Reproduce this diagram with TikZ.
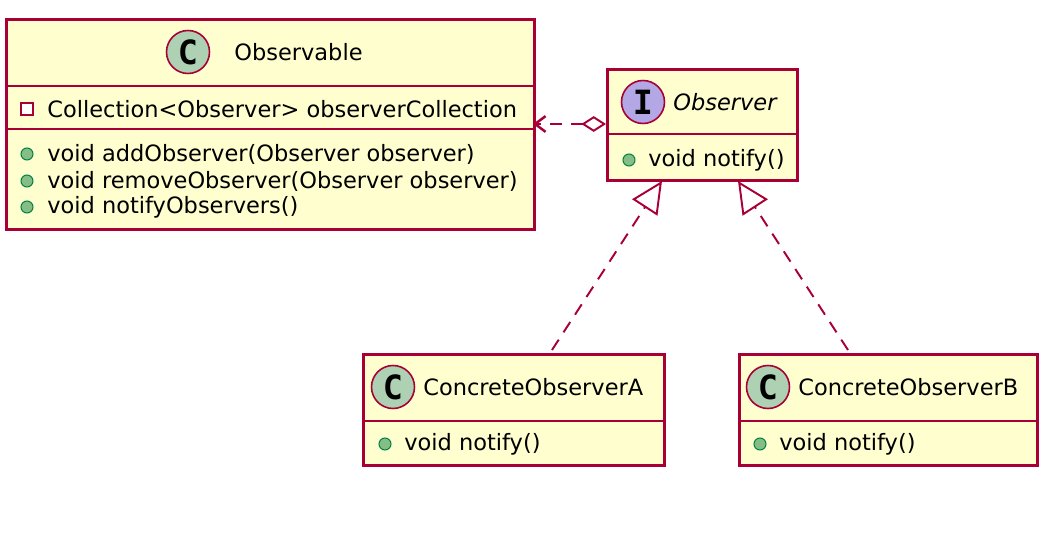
\documentclass[tikz,border=0pt]{standalone}
\usepackage{fontspec}
\setmainfont{DejaVu Sans}
\setmonofont{DejaVu Sans Mono}
\usetikzlibrary{arrows.meta}
\definecolor{umlfill}{HTML}{FEFECE}
\definecolor{umlline}{HTML}{A80036}
\definecolor{cfill}{HTML}{ADD1B2}
\definecolor{ifill}{HTML}{B4A7E5}
\definecolor{pubfill}{HTML}{84BE84}
\definecolor{publine}{HTML}{038048}
\begin{document}
\begin{tikzpicture}[x=0.02cm,y=-0.02cm,
  box/.style={draw=umlline,fill=umlfill,line width=1.6pt,anchor=north west,inner sep=0pt},
  sep/.style={umlline,line width=1.6pt},
  txt/.style={anchor=west,inner sep=0pt,font=\fontsize{12.8}{15}\selectfont},
  badge/.style={circle,draw=umlline,line width=0.9pt,minimum size=0.86cm,inner sep=0pt,font=\fontsize{19}{19}\selectfont\ttfamily\bfseries},
  pub/.style={circle,draw=publine,fill=pubfill,minimum size=0.24cm,inner sep=0pt,line width=0.6pt},
  priv/.style={draw=umlline,fill=white,minimum size=0.24cm,inner sep=0pt,line width=0.7pt},
  rel/.style={umlline,line width=1.1pt,dash pattern=on 7pt off 5pt}]
\useasboundingbox (0,0) rectangle (1042,560);
% Observable
\node[box,minimum width=528*0.02cm,minimum height=210*0.02cm] (obs) at (5,18) {};
\draw[sep] (5,86) -- (533,86);
\draw[sep] (5,129) -- (533,129);
\node[badge,fill=cfill] (obsc) at (188,52) {C};
\node[txt] (obsn) at (234,52) {Observable};
\node[priv] (obsp) at (27,109) {};
\node[txt] (obsa) at (47,109) {Collection<Observer> observerCollection};
\node[pub] (obsm1) at (27,154) {};
\node[txt] at (47,154) {void addObserver(Observer observer)};
\node[pub] (obsm2) at (27,181) {};
\node[txt] at (47,181) {void removeObserver(Observer observer)};
\node[pub] (obsm3) at (27,207) {};
\node[txt] at (47,207) {void notifyObservers()};
% Observer
\node[box,minimum width=190*0.02cm,minimum height=111*0.02cm] (obr) at (606,68) {};
\draw[sep] (606,134) -- (796,134);
\node[badge,fill=ifill] (obri) at (643,102) {I};
\node[txt] (obrn) at (673,102) {\itshape Observer};
\node[pub] (obrm) at (629,160) {};
\node[txt] at (648,160) {void notify()};
% ConcreteObserverA
\node[box,minimum width=301*0.02cm,minimum height=111*0.02cm] (ca) at (362,353) {};
\draw[sep] (362,421) -- (663,421);
\node[badge,fill=cfill] (cac) at (393,387) {C};
\node[txt] (can) at (423,387) {ConcreteObserverA};
\node[pub] (cam) at (385,444) {};
\node[txt] at (404,444) {void notify()};
% ConcreteObserverB
\node[box,minimum width=298*0.02cm,minimum height=111*0.02cm] (cb) at (738,353) {};
\draw[sep] (738,421) -- (1036,421);
\node[badge,fill=cfill] (cbc) at (768,387) {C};
\node[txt] (cbn) at (798,387) {ConcreteObserverB};
\node[pub] (cbm) at (760,444) {};
\node[txt] at (779,444) {void notify()};
% relations
\coordinate (aggS) at (606,124);
\coordinate (aggE) at (533,124);
\draw[rel,{Diamond[open,fill=white,length=14pt,width=9pt,line width=1.1pt]}-{Straight Barb[length=6pt,width=9pt,line width=1.4pt]}] (aggS) -- (aggE);
\coordinate (raS) at (552,350);
\coordinate (raE) at (662,181);
\draw[rel,-{Triangle[open,fill=white,length=18pt,width=17pt,line width=1.1pt]}] (raS) -- (raE);
\coordinate (rbS) at (848,350);
\coordinate (rbE) at (738,181);
\draw[rel,-{Triangle[open,fill=white,length=18pt,width=17pt,line width=1.1pt]}] (rbS) -- (rbE);
\end{tikzpicture}
\end{document}
